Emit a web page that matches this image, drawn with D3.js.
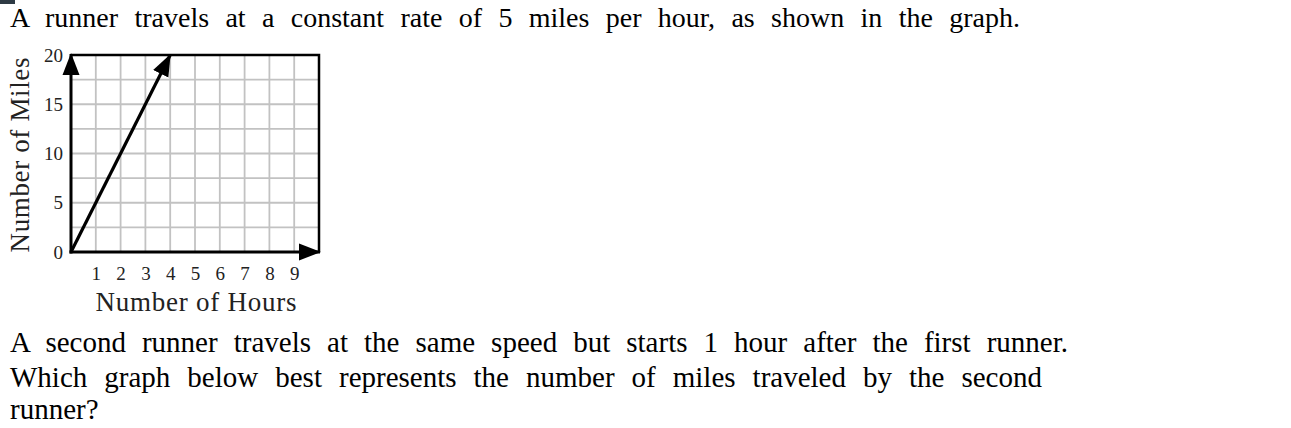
<!DOCTYPE html>
<html>
<head>
<meta charset="utf-8">
<script src="https://cdn.jsdelivr.net/npm/d3@7"></script>
<style>
    html, body { margin: 0; padding: 0; background: #fff; }
    svg { display: block; }
</style>
</head>
<body>
<svg id="chart" width="1291" height="428"></svg>
<script>
// runner data (hours -> miles)
var hours = [0, 4];
var miles = [0, 20];

var xTicks = [1, 2, 3, 4, 5, 6, 7, 8, 9];
var yTicks = [0, 5, 10, 15, 20];
var xGrid = [1, 2, 3, 4, 5, 6, 7, 8, 9];
var yGrid = [2.5, 5, 7.5, 10, 12.5, 15, 17.5];

var questionTop = 'A runner travels at a constant rate of 5 miles per hour, as shown in the graph.';
var questionLines = [
    'A second runner travels at the same speed but starts 1 hour after the first runner.',
    'Which graph below best represents the number of miles traveled by the second',
    'runner?'
];

var svg = d3.select('#chart');
var serif = '"Liberation Serif", "Times New Roman", serif';

var x = d3.scaleLinear().domain([0, 10]).range([71, 319]);
var y = d3.scaleLinear().domain([0, 20]).range([252, 55]);

// small dark mark in the corner
svg.append('rect')
    .attr('x', 0)
    .attr('y', 0)
    .attr('width', 15)
    .attr('height', 4)
    .attr('fill', '#2e3a44');

// justified text helper: spread extra space between words
function justifyText(sel, width) {
    var natural = sel.node().getComputedTextLength();
    var gaps = sel.text().split(' ').length - 1;
    if (gaps > 0 && width > natural) {
        sel.attr('word-spacing', (width - natural) / gaps);
    }
}

var topText = svg.append('text')
    .text(questionTop)
    .attr('x', 10)
    .attr('y', 27)
    .style('font-family', serif)
    .style('font-size', '28px')
    .attr('fill', '#000');
justifyText(topText, 1010);

var lineY = [352, 387, 419];
var lineW = [1058, 1032, 0];
questionLines.forEach(function (s, i) {
    var t = svg.append('text')
        .text(s)
        .attr('x', 10)
        .attr('y', lineY[i])
        .style('font-family', serif)
        .style('font-size', '29px')
        .attr('fill', '#000');
    if (lineW[i]) {
        justifyText(t, lineW[i]);
    }
});

// grid
var g = svg.append('g')
    .style('font-family', serif);

g.selectAll('line.vgrid')
    .data(xGrid)
    .enter()
    .append('line')
    .attr('class', 'vgrid')
    .attr('x1', function (d) { return x(d); })
    .attr('x2', function (d) { return x(d); })
    .attr('y1', y(0))
    .attr('y2', y(20))
    .attr('stroke', '#c2c2c2')
    .attr('stroke-width', 1.8);

g.selectAll('line.hgrid')
    .data(yGrid)
    .enter()
    .append('line')
    .attr('class', 'hgrid')
    .attr('x1', x(0))
    .attr('x2', x(10))
    .attr('y1', function (d) { return y(d); })
    .attr('y2', function (d) { return y(d); })
    .attr('stroke', '#c2c2c2')
    .attr('stroke-width', 1.8);

// frame (top and right)
g.append('path')
    .attr('d', `M${x(0)},${y(20)} L${x(10)},${y(20)} L${x(10)},${y(0)}`)
    .attr('fill', 'none')
    .attr('stroke', '#000')
    .attr('stroke-width', 2.5);

// arrow marker
svg.append('defs')
    .append('marker')
    .attr('id', 'arrow')
    .attr('markerUnits', 'userSpaceOnUse')
    .attr('viewBox', '0 -10 22 20')
    .attr('refX', 21)
    .attr('refY', 0)
    .attr('markerWidth', 22)
    .attr('markerHeight', 20)
    .attr('orient', 'auto')
    .append('path')
    .attr('d', 'M0,-8.5 L22,0 L0,8.5 Z')
    .attr('fill', '#000');

// axes
g.append('line')
    .attr('x1', x(0))
    .attr('x2', x(0))
    .attr('y1', y(0) + 1.5)
    .attr('y2', y(20) - 1)
    .attr('stroke', '#000')
    .attr('stroke-width', 3)
    .attr('marker-end', 'url(#arrow)');

g.append('line')
    .attr('x1', x(0) - 1.5)
    .attr('x2', x(10) + 1)
    .attr('y1', y(0))
    .attr('y2', y(0))
    .attr('stroke', '#000')
    .attr('stroke-width', 3)
    .attr('marker-end', 'url(#arrow)');

// runner line
var line = d3.line()
    .x(function (d) { return x(d[0]); })
    .y(function (d) { return y(d[1]); });

g.append('path')
    .datum(d3.zip(hours, miles))
    .attr('d', line)
    .attr('fill', 'none')
    .attr('stroke', '#000')
    .attr('stroke-width', 3.2)
    .attr('marker-end', 'url(#arrow)');

// tick labels
var xAxis = g.append('g')
    .attr('transform', `translate(0,${y(0)})`)
    .call(d3.axisBottom(x).tickValues(xTicks).tickSize(0).tickPadding(0));

var yAxis = g.append('g')
    .attr('transform', `translate(${x(0)},0)`)
    .call(d3.axisLeft(y).tickValues(yTicks).tickSize(0).tickPadding(8));

[xAxis, yAxis].forEach(function (a) {
    a.style('font-family', serif).style('font-size', '19px');
    a.select('.domain').remove();
    a.selectAll('text')
        .style('font-family', serif)
        .style('font-size', '19px')
        .attr('fill', '#222');
});

xAxis.selectAll('text')
    .attr('y', 28)
    .attr('dy', 0);

// axis titles
g.append('text')
    .text('Number of Hours')
    .attr('x', 196)
    .attr('y', 311)
    .attr('text-anchor', 'middle')
    .style('font-family', serif)
    .style('font-size', '27px')
    .attr('fill', '#222')
    .attr('textLength', 201)
    .attr('lengthAdjust', 'spacing');

g.append('text')
    .text('Number of Miles')
    .attr('transform', 'translate(29,155) rotate(-90)')
    .attr('text-anchor', 'middle')
    .style('font-family', serif)
    .style('font-size', '27px')
    .attr('fill', '#222')
    .attr('textLength', 195)
    .attr('lengthAdjust', 'spacing');
</script>
</body>
</html>
